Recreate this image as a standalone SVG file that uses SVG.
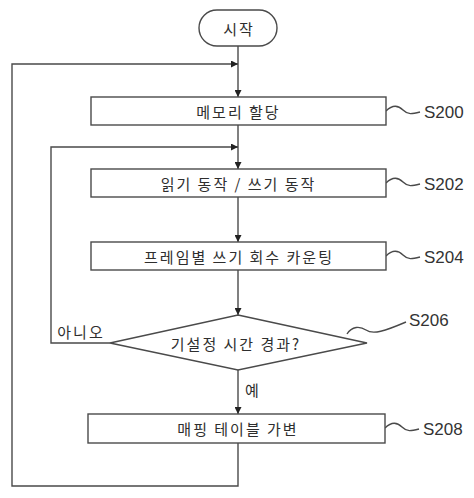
<svg xmlns="http://www.w3.org/2000/svg" width="474" height="498" viewBox="0 0 474 498">
<style>
.box{fill:#fff;stroke:#4a4a4a;stroke-width:1.4}
.ln{fill:none;stroke:#4a4a4a;stroke-width:1.4}
.t{font-family:"Noto Sans CJK KR","Noto Sans",sans-serif;font-size:15px;letter-spacing:2px;fill:#2e2e2e;text-anchor:middle;dominant-baseline:central}
.lab{font-family:"Liberation Sans",Arial,sans-serif;font-size:17px;fill:#333;dominant-baseline:central}
</style>
<defs>
<marker id="ah" viewBox="0 0 10 10" refX="10" refY="5" markerWidth="7" markerHeight="7" markerUnits="userSpaceOnUse" orient="auto">
<path d="M0,0 L10,5 L0,10 Z" fill="#222"/>
</marker>
</defs>
<g id="connectors">
<path class="ln" d="M238,46 V97" marker-end="url(#ah)"/>
<path class="ln" d="M238,125 V169" marker-end="url(#ah)"/>
<path class="ln" d="M238,197 V242" marker-end="url(#ah)"/>
<path class="ln" d="M238,270 V315" marker-end="url(#ah)"/>
<path class="ln" d="M238,370 V414" marker-end="url(#ah)"/>
<path class="ln" d="M110,343 H51 V147 H238" marker-end="url(#ah)"/>
<path class="ln" d="M238,443 V486 H12 V64 H238" marker-end="url(#ah)"/>
<path class="ln" d="M386,111 C392,105 398,105 403,110 C408,115 412,114 420,112"/>
<path class="ln" d="M386,183 C392,177 398,177 403,182 C408,187 412,186 420,184"/>
<path class="ln" d="M386,256 C392,250 398,250 403,255 C408,260 412,259 420,257"/>
<path class="ln" d="M385,428 C391,422 397,422 402,427 C407,432 411,431 419,429"/>
<path class="ln" d="M347,334 C352,326 360,326 366,330 C373,335 385,331 406,322"/>
</g>
<g id="start">
<rect class="box" x="199" y="10" width="78" height="36" rx="18"/>
<text class="t" x="239" y="28">시작</text>
</g>
<g id="S200">
<rect class="box" x="91" y="97" width="295" height="28"/>
<text class="t" x="238.5" y="111">메모리 할당</text>
<text class="lab" x="424" y="112">S200</text>
</g>
<g id="S202">
<rect class="box" x="91" y="169" width="295" height="28"/>
<text class="t" x="238.5" y="183">읽기 동작 / 쓰기 동작</text>
<text class="lab" x="424" y="184">S202</text>
</g>
<g id="S204">
<rect class="box" x="91" y="242" width="295" height="28"/>
<text class="t" x="239" y="256">프레임별 쓰기 회수 카운팅</text>
<text class="lab" x="424" y="257">S204</text>
</g>
<g id="S206">
<polygon class="box" points="238,315 367,343 238,370 110,343"/>
<text class="t" x="236" y="343">기설정 시간 경과?</text>
<text class="lab" x="409" y="320">S206</text>
<text class="t" x="81" y="331">아니오</text>
<text class="t" x="253" y="389">예</text>
</g>
<g id="S208">
<rect class="box" x="88" y="414" width="297" height="29"/>
<text class="t" x="238" y="428">매핑 테이블 가변</text>
<text class="lab" x="423" y="429">S208</text>
</g>
</svg>
